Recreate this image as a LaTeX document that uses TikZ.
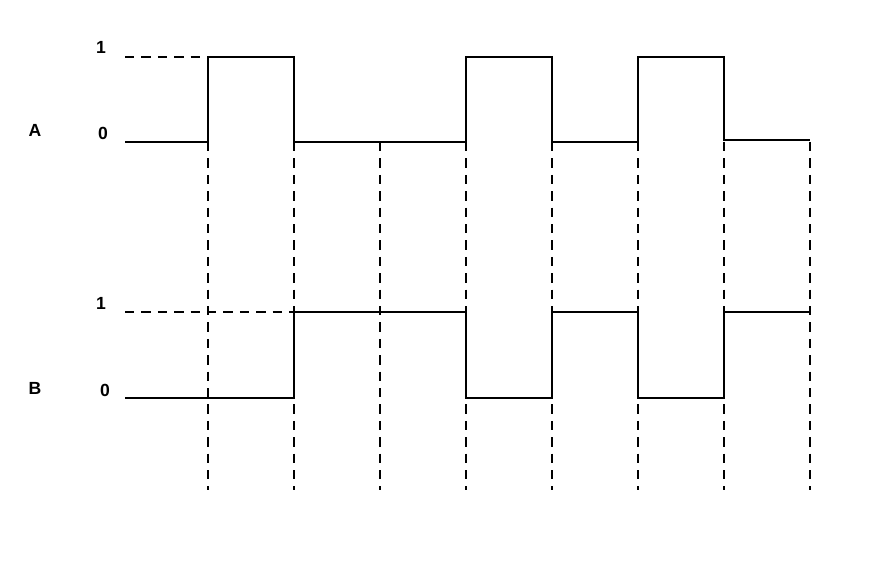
\documentclass[tikz,border=0pt]{standalone}
\usepackage{fontspec}
\setmainfont{Liberation Sans}
\begin{document}
\begin{tikzpicture}[x=0.03cm,y=-0.03cm,
  sig/.style={line width=2.4pt},
  guide/.style={line width=2pt,dash pattern=on 8pt off 6pt},
  lbl/.style={font=\bfseries\fontsize{15}{15}\selectfont}]
\useasboundingbox (0,0) rectangle (877,570);
\foreach \x in {208,294,380,466,552,638,724,810}
  \draw[guide] (\x,142) -- (\x,490);
\draw[guide] (125,57) -- (208,57);
\draw[guide] (125,312) -- (294,312);
\draw[sig] (125,142) -- (208,142) -- (208,57) -- (294,57) -- (294,142) -- (466,142) -- (466,57) -- (552,57) -- (552,142) -- (638,142) -- (638,57) -- (724,57) -- (724,140) -- (810,140);
\draw[sig] (125,398) -- (294,398) -- (294,312) -- (466,312) -- (466,398) -- (552,398) -- (552,312) -- (638,312) -- (638,398) -- (724,398) -- (724,312) -- (810,312);
\node[lbl] (one1) at (101,47) {1};
\node[lbl] (zero1) at (103,133) {0};
\node[lbl] (A) at (35,130) {A};
\node[lbl] (one2) at (101,303) {1};
\node[lbl] (zero2) at (105,390) {0};
\node[lbl] (B) at (35,388) {B};
\end{tikzpicture}
\end{document}
